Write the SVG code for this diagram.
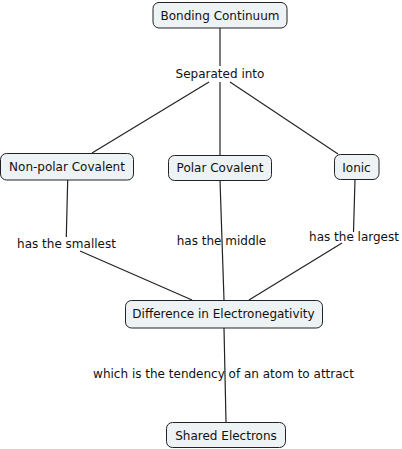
<svg xmlns="http://www.w3.org/2000/svg" width="402" height="449" viewBox="0 0 402 449">
<style>
.n{fill:#edf2f4;stroke:#222;stroke-width:1}
.t{font-family:"DejaVu Sans",Verdana,sans-serif;font-size:12px;fill:#111;text-anchor:middle}
.c line{stroke:#222;stroke-width:1.2}
</style>
<rect width="402" height="449" fill="#fff"/>
<g class="c" id="connectors">
<line x1="220" y1="28" x2="220" y2="66"/>
<line x1="220" y1="82" x2="220" y2="155"/>
<line x1="209" y1="82" x2="92" y2="153"/>
<line x1="230" y1="82" x2="338" y2="154"/>
<line x1="67.7" y1="180" x2="66.3" y2="237"/>
<line x1="80" y1="251" x2="192" y2="300"/>
<line x1="220" y1="180" x2="224" y2="300"/>
<line x1="355" y1="179" x2="353.5" y2="232"/>
<line x1="342" y1="243" x2="249" y2="300"/>
<line x1="224" y1="328" x2="226" y2="422"/>
</g>
<g id="bonding"><rect class="n" x="153" y="2.5" width="134" height="25.5" rx="6"/><text class="t" x="220" y="19.5">Bonding Continuum</text></g>
<g id="separated"><text class="t" x="220" y="78">Separated into</text></g>
<g id="nonpolar"><rect class="n" x="0.5" y="153.5" width="133" height="26.5" rx="6"/><text class="t" x="67" y="170.5">Non-polar Covalent</text></g>
<g id="polar"><rect class="n" x="168.5" y="155.5" width="103" height="25" rx="6"/><text class="t" x="220" y="172">Polar Covalent</text></g>
<g id="ionic"><rect class="n" x="334.5" y="154.5" width="44.5" height="25" rx="6"/><text class="t" x="356.5" y="172">Ionic</text></g>
<g id="smallest"><text class="t" x="66.5" y="248">has the smallest</text></g>
<g id="middle"><text class="t" x="221.5" y="245">has the middle</text></g>
<g id="largest"><text class="t" x="354" y="241">has the largest</text></g>
<g id="difference"><rect class="n" x="125.5" y="300.5" width="197" height="27.5" rx="6"/><text class="t" x="223.5" y="317.5">Difference in Electronegativity</text></g>
<g id="tendency"><text class="t" x="223.5" y="377.5">which is the tendency of an atom to attract</text></g>
<g id="shared"><rect class="n" x="166.5" y="422.5" width="119" height="25" rx="6"/><text class="t" x="226" y="439.5">Shared Electrons</text></g>
</svg>
